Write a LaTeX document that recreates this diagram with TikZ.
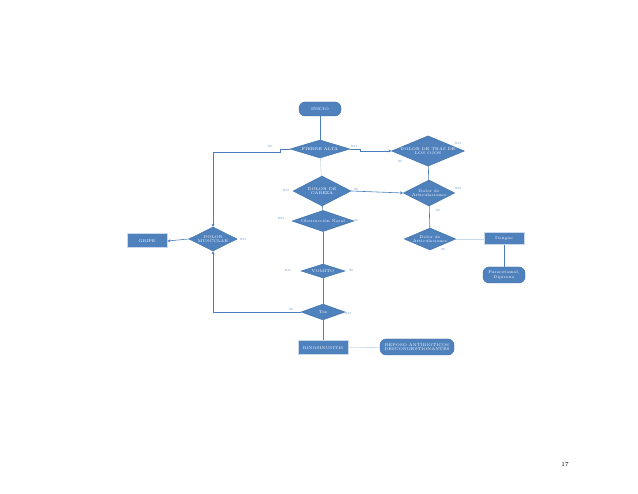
\documentclass[tikz,border=0pt]{standalone}
\usetikzlibrary{shapes.geometric,arrows.meta}
\definecolor{boxblue}{HTML}{4F81BD}
\definecolor{edgeblue}{HTML}{3A6FA8}
\definecolor{lineblue}{HTML}{4A7EBB}
\definecolor{paleblue}{HTML}{C9D8EA}
\tikzset{
  dec/.style={diamond,aspect=2.4,draw=edgeblue,fill=boxblue,text=white,inner sep=0pt,font=\fontsize{4}{4.5}\selectfont,align=center},
  rbox/.style={rectangle,draw=paleblue,line width=1pt,fill=boxblue,text=white,font=\fontsize{4}{4.5}\selectfont,align=center,inner sep=0pt},
  term/.style={rectangle,rounded corners=6pt,draw=edgeblue,fill=boxblue,text=white,font=\fontsize{4}{4.5}\selectfont,align=center,inner sep=0pt},
  lnk/.style={draw=lineblue,line width=0.6pt},
  lnkarr/.style={lnk,-{Stealth[length=3pt,width=3pt]}},
  pale/.style={draw=paleblue,line width=0.6pt},
  lab/.style={text=lineblue,font=\fontsize{3}{3.5}\selectfont}
}
\begin{document}
\begin{tikzpicture}[x=1pt,y=-1pt]
  \useasboundingbox[fill=white] (0,0) rectangle (638,494);
  % nodos
  \node[term,minimum width=42pt,minimum height=14pt] (inicio) at (320,109) {INICIO};
  \node[dec,minimum width=60pt,minimum height=16pt] (fiebre) at (320,149) {FIEBRE ALTA};
  \node[dec,minimum width=58pt,minimum height=26pt] (ojos) at (428,151) {DOLOR DE TRAS DE\\LOS OJOS};
  \node[dec,minimum width=58pt,minimum height=30pt] (cabeza) at (322,191) {DOLOR DE\\CABEZA};
  \node[dec,minimum width=44pt,minimum height=26pt] (artA) at (429,193) {Dolor de\\Articulaciones};
  \node[dec,minimum width=62pt,minimum height=16pt] (nasal) at (323,221) {Obstrucción Nasal};
  \node[dec,minimum width=44pt,minimum height=22pt] (artB) at (430,239) {Dolor de\\Articulaciones};
  \node[rbox,minimum width=40pt,minimum height=12pt] (dengue) at (504,239) {Dengue};
  \node[term,minimum width=42pt,minimum height=16pt] (para) at (504,275) {Paracetamol,\\Dipirona};
  \node[dec,minimum width=42pt,minimum height=24pt] (muscular) at (213,239) {DOLOR\\MUSCULAR};
  \node[rbox,minimum width=40pt,minimum height=14pt] (gripe) at (147,241) {GRIPE};
  \node[dec,minimum width=44pt,minimum height=14pt] (vomito) at (323,271) {VOMITO};
  \node[dec,minimum width=44pt,minimum height=16pt] (tos) at (323,312) {Tos};
  \node[rbox,minimum width=50pt,minimum height=14pt] (rino) at (323,348) {RINOSINUSITIS};
  \node[term,minimum width=74pt,minimum height=16pt] (reposo) at (417,347) {REPOSO ANTIBIOTICOS\\DESCONGESTIONANTES};
  \node[font=\fontsize{6}{7}\selectfont] (pag) at (565,465) {17};
  % conectores
  \draw[lnk] (inicio) -- (fiebre);
  \draw[pale] (fiebre) -- (cabeza);
  \draw[lnkarr] (fiebre.east) -- ++(10,0) |- (ojos.west);
  \draw[lnkarr] (fiebre.west) -- ++(-10,0) -- ++(0,3) -| (muscular.north);
  \draw[lnk] (ojos) -- (artA);
  \draw[lnkarr] (cabeza.east) -- (artA.west);
  \draw[lnk] (cabeza) -- (nasal);
  \draw[lnk] (artA) -- (artB);
  \draw[pale] (artB) -- (dengue);
  \draw[lnk] (dengue) -- (para);
  \draw[lnk] (nasal) -- (vomito);
  \draw[lnk] (vomito) -- (tos);
  \draw[lnk] (tos) -- (rino);
  \draw[pale] (rino) -- (reposo);
  \draw[lnkarr] (muscular.west) -- (gripe.east);
  \draw[lnkarr] (tos.west) -| (muscular.south);
  % etiquetas
  \node[lab] (l1) at (270,146) {SI};
  \node[lab] (l2) at (354,146) {NO};
  \node[lab] (l3) at (458,143) {NO};
  \node[lab] (l4) at (400,161) {SI};
  \node[lab] (l5) at (286,190) {NO};
  \node[lab] (l6) at (356,189) {SI};
  \node[lab] (l7) at (458,188) {NO};
  \node[lab] (l8) at (438,210) {SI};
  \node[lab] (l9) at (281,218) {NO};
  \node[lab] (l10) at (356,220) {SI};
  \node[lab] (l11) at (443,249) {SI};
  \node[lab] (l12) at (243,239) {NO};
  \node[lab] (l13) at (288,270) {NO};
  \node[lab] (l14) at (351,270) {SI};
  \node[lab] (l15) at (291,309) {SI};
  \node[lab] (l16) at (348,313) {NO};
\end{tikzpicture}
\end{document}
